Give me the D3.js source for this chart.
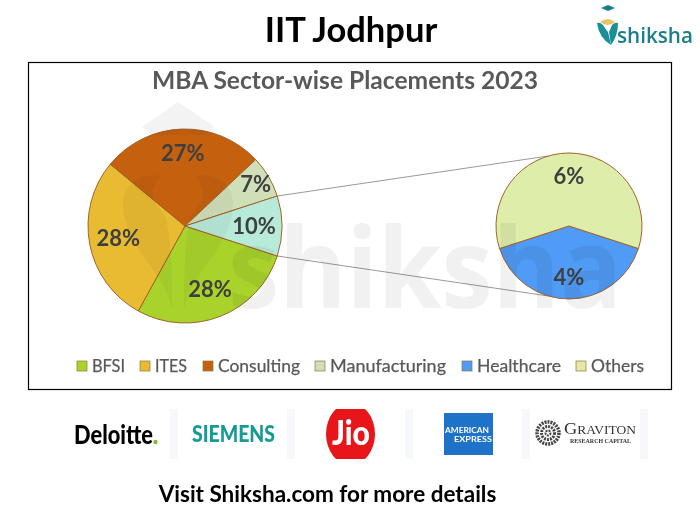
<!DOCTYPE html>
<html>
<head>
<meta charset="utf-8">
<script src="https://cdnjs.cloudflare.com/ajax/libs/d3/7.8.5/d3.min.js"></script>
<style>
html, body { margin: 0; padding: 0; background: #fff; }
svg { display: block; }
text { font-family: Lato, "Open Sans", sans-serif; }
</style>
</head>
<body>
<script>
var mainLabels = ["BFSI", "ITES", "Consulting", "Manufacturing", "Others group"];
var mainValues = [28, 28, 27, 7, 10];
var mainColors = ["#a9d32b", "#e8bb32", "#c5600f", "#cfdfb8", "#b8ead9"];

var subLabels = ["Healthcare", "Others"];
var subValues = [4, 6];
var subColors = ["#4f9bf5", "#deedaa"];

var legendLabels = ["BFSI", "ITES", "Consulting", "Manufacturing", "Healthcare", "Others"];
var legendColors = ["#a9d32b", "#e8bb32", "#c5600f", "#cfdfb8", "#4f9bf5", "#e9e7a8"];

var width = 700, height = 519;
var svg = d3.select("body").append("svg").attr("width", width).attr("height", height);

svg.append("text").attr("x", 351).attr("y", 42).attr("text-anchor", "middle")
    .attr("font-size", 34.5).attr("font-weight", 700).attr("fill", "#000").text("IIT Jodhpur");

// shiksha logo top right
var logo = svg.append("g");
logo.append("path").attr("d", "M597 23 Q600 22 603 25 Q606 30 608 32 L611 45 Q599 38 597 23 Z").attr("fill", "#1a8f96");
logo.append("path").attr("d", "M618 23 Q615 22 612 25 Q610 30 609 32 L611 45 Q618 36 618 23 Z").attr("fill", "#1a8f96");
logo.append("path").attr("d", "M600 22 Q608 16 615 22 Q608 28 600 22 Z").attr("fill", "#e8c468");
logo.append("path").attr("d", "M601 8 L608 5 L615 8 L608 11 Z").attr("fill", "#1a7f8a");
logo.append("text").attr("x", 617).attr("y", 43).attr("font-size", 22).attr("font-weight", 600)
    .attr("fill", "#1a7f8a").style("font-family", "'Open Sans'").attr("textLength", 76)
    .attr("lengthAdjust", "spacingAndGlyphs").text("shiksha");

// chart frame
svg.append("rect").attr("x", 28.5).attr("y", 62.5).attr("width", 643).attr("height", 327)
    .attr("fill", "#fff").attr("stroke", "#000").attr("stroke-width", 1.2);

svg.append("text").attr("x", 345).attr("y", 89).attr("text-anchor", "middle")
    .attr("font-size", 24.6).attr("font-weight", 700).attr("fill", "#595959")
    .text("MBA Sector-wise Placements 2023");

var startDeg = 108;
var rad = Math.PI / 180;
var pie = d3.pie().sort(null).value(function(d) { return d; });
var mainPie = pie.startAngle(startDeg * rad).endAngle((startDeg + 360) * rad)(mainValues);
var subPie = pie.startAngle(startDeg * rad).endAngle((startDeg + 360) * rad)(subValues);

var mainC = [185, 226], mainR = 97;
var subC = [569, 226], subR = 73;

function onCircle(c, r, deg) {
    return [c[0] + r * Math.sin(deg * rad), c[1] - r * Math.cos(deg * rad)];
}

// series lines joining the two pies
var links = [[72, -16.5], [108, 196.5]];
svg.selectAll(".link").data(links).enter().append("line").attr("class", "link")
    .attr("x1", function(d) { return onCircle(mainC, mainR, d[0])[0]; })
    .attr("y1", function(d) { return onCircle(mainC, mainR, d[0])[1]; })
    .attr("x2", function(d) { return onCircle(subC, subR, d[1])[0]; })
    .attr("y2", function(d) { return onCircle(subC, subR, d[1])[1]; })
    .attr("stroke", "#9a9a9a").attr("stroke-width", 1);

function drawPie(data, colors, c, r, labelRadii) {
    var arc = d3.arc().innerRadius(0).outerRadius(r);
    var g = svg.append("g").attr("transform", "translate(" + c[0] + "," + c[1] + ")");
    g.selectAll("path").data(data).enter().append("path")
        .attr("d", arc)
        .attr("fill", function(d, i) { return colors[i]; })
        .attr("stroke", "#a0642a").attr("stroke-width", 1);
    g.selectAll("text").data(data).enter().append("text")
        .attr("transform", function(d, i) {
            var lr = labelRadii[i];
            return "translate(" + d3.arc().innerRadius(lr).outerRadius(lr).centroid(d) + ")";
        })
        .attr("dy", "0.35em").attr("text-anchor", "middle")
        .attr("font-size", 22).attr("font-weight", 700).attr("fill", "#3f3f3f")
        .text(function(d) { return d.value + "%"; });
}
drawPie(mainPie, mainColors, mainC, mainR, [68, 68, 73, 82, 69]);
drawPie(subPie, subColors, subC, subR, [51, 50]);

// legend, positions
var legendX = [77, 140, 203, 315, 462, 576];
var legendW = [33, 32, 82, 116, 84, 53];
var legend = svg.selectAll(".leg").data(legendLabels).enter().append("g").attr("class", "leg")
    .attr("transform", function(d, i) { return "translate(" + legendX[i] + ",361)"; });
legend.append("rect").attr("width", 10).attr("height", 10)
    .attr("fill", function(d, i) { return legendColors[i]; })
    .attr("stroke", "#8a7a3a").attr("stroke-width", 0.7);
legend.append("text").attr("x", 15).attr("y", 10.5).attr("font-size", 17).attr("fill", "#595959")
    .attr("stroke", "#595959").attr("stroke-width", 0.25)
    .attr("textLength", function(d, i) { return legendW[i]; }).attr("lengthAdjust", "spacingAndGlyphs")
    .text(function(d) { return d; });

// watermark laid over the plot
var wm = svg.append("g").style("mix-blend-mode", "multiply");
wm.append("text").attr("x", 228).attr("y", 308).attr("font-size", 112).attr("font-weight", 700)
    .attr("fill", "#f1f1f1").style("font-family", "'Open Sans'").attr("textLength", 394)
    .attr("lengthAdjust", "spacingAndGlyphs").text("shiksha");
wm.append("path").attr("d", "M172 310 C165 270 125 250 123 205 C122 185 140 172 160 176 C150 190 150 200 165 215 C172 240 172 280 172 310 Z")
    .attr("fill", "#f5f5f5");
wm.append("path").attr("d", "M184 310 C191 270 231 250 233 205 C234 185 216 172 196 176 C206 190 206 200 191 215 C184 240 184 280 184 310 Z")
    .attr("fill", "#f5f5f5");
wm.append("path").attr("d", "M142 127 L178 102 L215 127 L205 135 L152 135 Z").attr("fill", "#f3f3f3");

// company logo strip
var tileX = [61, 179, 297, 415, 532];
var tileW = [109, 108, 108, 107, 108];
svg.selectAll(".gap").data(tileX).enter().append("rect").attr("class", "gap")
    .attr("x", function(d, i) { return d + tileW[i]; }).attr("y", 409)
    .attr("width", 8).attr("height", 50).attr("fill", "#f7f8fc");
svg.append("clipPath").attr("id", "stripClip").append("rect")
    .attr("x", 50).attr("y", 409).attr("width", 600).attr("height", 50);

svg.append("text").attr("x", 74).attr("y", 444).attr("font-size", 26).attr("font-weight", 900)
    .attr("textLength", 79).attr("lengthAdjust", "spacingAndGlyphs").attr("fill", "#000").text("Deloitte");
svg.append("circle").attr("cx", 155.5).attr("cy", 442).attr("r", 2.2).attr("fill", "#86bc25");
svg.append("text").attr("x", 192).attr("y", 442).attr("font-size", 22).attr("font-weight", 900)
    .attr("textLength", 83).attr("lengthAdjust", "spacingAndGlyphs").attr("fill", "#159a94").text("SIEMENS");
svg.append("ellipse").attr("clip-path", "url(#stripClip)").attr("cx", 350.5).attr("cy", 434)
    .attr("rx", 24.5).attr("ry", 31).attr("fill", "#e8161a");
svg.append("text").attr("x", 332).attr("y", 445).attr("font-size", 35).attr("font-weight", 900)
    .attr("textLength", 38).attr("lengthAdjust", "spacingAndGlyphs").attr("fill", "#fff").text("Jio");
svg.append("rect").attr("x", 444).attr("y", 413).attr("width", 49).attr("height", 42).attr("fill", "#1e73c8");
svg.append("text").attr("x", 445).attr("y", 433).attr("font-size", 7.5)
    .attr("font-weight", 700).attr("textLength", 44).attr("lengthAdjust", "spacingAndGlyphs")
    .attr("fill", "#fff").text("AMERICAN");
svg.append("text").attr("x", 454).attr("y", 442).attr("font-size", 7.5)
    .attr("font-weight", 700).attr("textLength", 38).attr("lengthAdjust", "spacingAndGlyphs")
    .attr("fill", "#fff").text("EXPRESS");
[[11, 3.5], [6.5, 3], [2.5, 2]].forEach(function(r) {
    svg.append("circle").attr("cx", 548).attr("cy", 433).attr("r", r[0]).attr("fill", "none")
        .attr("stroke", "#444").attr("stroke-width", r[1]).attr("stroke-dasharray", "2 1");
});
var gravName = svg.append("text").attr("x", 564).attr("y", 434).attr("font-size", 12.5)
    .attr("textLength", 72).attr("lengthAdjust", "spacingAndGlyphs").attr("fill", "#333")
    .style("font-family", "'Liberation Serif'");
gravName.append("tspan").attr("font-size", 17).text("G");
gravName.append("tspan").text("RAVITON");
svg.append("text").attr("x", 570).attr("y", 443).attr("font-size", 7).attr("font-weight", 700)
    .attr("textLength", 61).attr("lengthAdjust", "spacingAndGlyphs").attr("fill", "#333")
    .style("font-family", "'Liberation Serif'").text("RESEARCH CAPITAL");

svg.append("text").attr("x", 327.5).attr("y", 502).attr("text-anchor", "middle")
    .attr("font-size", 22.5).attr("font-weight", 700).attr("fill", "#000").text("Visit Shiksha.com for more details");
</script>
</body>
</html>
